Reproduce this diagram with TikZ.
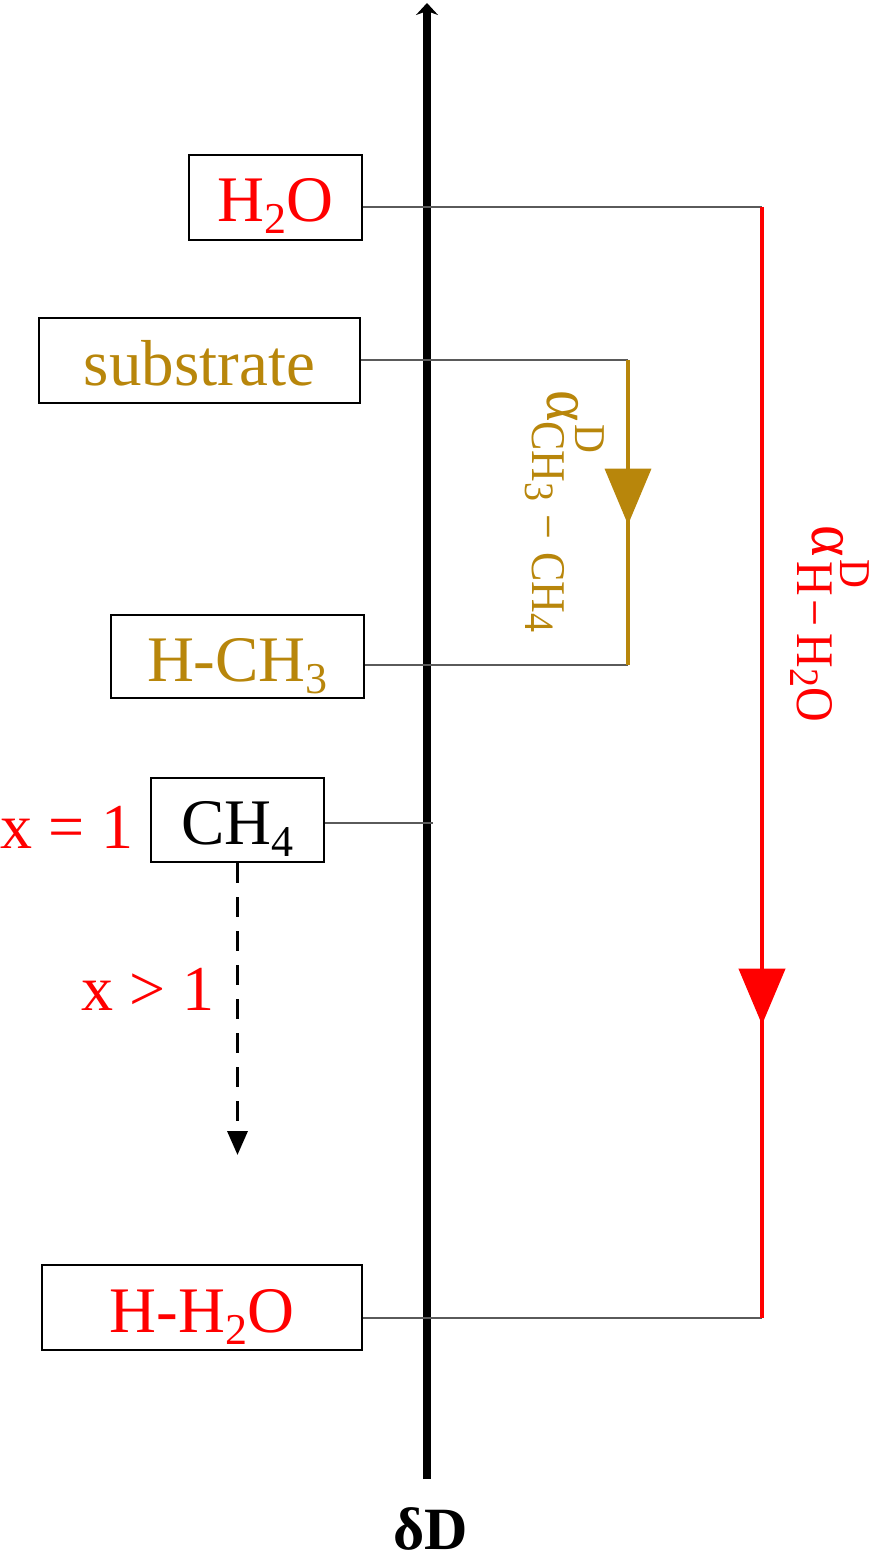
\documentclass[tikz,border=0pt]{standalone}
\usepackage{fontspec}
\setmainfont{Liberation Serif}
\usetikzlibrary{arrows.meta,decorations.markings}
\definecolor{gold}{RGB}{184,134,11}
\definecolor{conn}{RGB}{90,90,90}
\newcommand{\fs}[1]{\fontsize{#1}{#1}\selectfont}
\newcommand{\chemsub}[1]{\raisebox{-12pt}{\fs{44}#1}}
\newcommand{\lsub}[1]{\raisebox{-6.4pt}{\fs{38}#1}}
\begin{document}
\begin{tikzpicture}[x=1pt,y=-1pt,
  box/.style={draw=black,line width=2.2pt,inner sep=0pt,text height=49pt,text depth=0pt,font=\fs{65}},
  conline/.style={draw=conn,line width=1.4pt},
  lab/.style={font=\fs{64},text=red,anchor=base,inner sep=0pt},
  rotlab/.style={rotate=-90,yscale=1.1,anchor=base west,inner sep=0pt}
]
\useasboundingbox (0,0) rectangle (876,1562);
% axis
\coordinate (axtop) at (427,3);
\coordinate (axbot) at (427,1479);
\draw[line width=8pt,-{Stealth[length=12pt,width=22pt]}] (axbot) -- (axtop);
\node[anchor=base,inner sep=0pt,font=\fs{60}\bfseries] (dd) at (431,1549) {δD};
% boxes
\node[box,minimum width=173pt,minimum height=85pt,text=red] (h2o) at (275.5,197.5) {H\chemsub{2}O};
\node[box,minimum width=321pt,minimum height=85pt,text=gold] (sub) at (199.5,360.5) {substrate};
\node[box,minimum width=253pt,minimum height=83pt,text=gold] (hch3) at (237.5,656.5) {H-CH\chemsub{3}};
\node[box,minimum width=173pt,minimum height=84pt,text=black] (ch4) at (237.5,820) {CH\chemsub{4}};
\node[box,minimum width=320pt,minimum height=85pt,text=red] (hh2o) at (202,1307.5) {H-H\chemsub{2}O};
% labels
\node[lab] (x1) at (67,848) {x = 1};
\node[lab] (xg1) at (148,1010) {x {\textgreater} 1};
% connector coordinates
\coordinate (r1) at (762,207);
\coordinate (r2) at (762,1318);
\coordinate (g1) at (628,360);
\coordinate (g2) at (628,665);
\coordinate (c4) at (433,823);
\coordinate (dend) at (237.5,1155);
% thin connectors
\draw[conline] (h2o.east |- r1) -- (r1);
\draw[conline] (hh2o.east |- r2) -- (r2);
\draw[conline] (sub.east |- g1) -- (g1);
\draw[conline] (hch3.east |- g2) -- (g2);
\draw[conline] (ch4.east |- c4) -- (c4);
% red fractionation
\draw[red,line width=4pt,postaction={decorate},
  decoration={markings,mark=at position 0.736 with {\arrow{Triangle[width=46pt,length=56pt]}}}]
  (r1) -- (r2);
% gold fractionation
\draw[gold,line width=3.5pt,postaction={decorate},
  decoration={markings,mark=at position 0.54 with {\arrow{Triangle[width=46pt,length=56pt]}}}]
  (g1) -- (g2);
% dashed arrow
\draw[line width=3.5pt,dash pattern=on 20pt off 14pt,-{Triangle[length=24pt,width=20pt]}] (ch4.south) -- (dend);
% rotated labels
\node[rotlab,text=gold] (ag) at (547,390) {{\fs{60}α}\rlap{\hspace{3pt}\raisebox{26pt}{\fs{40}D}}\raisebox{-13.6pt}{\fs{44}CH\lsub{3}\hspace{13pt}−\hspace{13pt}CH\lsub{4}}};
\node[rotlab,text=red] (ar) at (812,525) {{\fs{60}α}\rlap{\hspace{3pt}\raisebox{26pt}{\fs{40}D}}\hspace{5pt}\raisebox{-13.6pt}{\fs{48}H\hspace{3pt}−\hspace{7pt}H\lsub{2}O}};
\end{tikzpicture}
\end{document}
